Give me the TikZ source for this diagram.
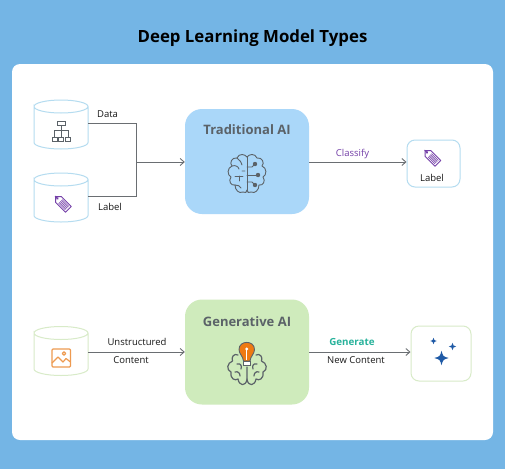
\documentclass[tikz,border=0pt]{standalone}
\usepackage{fontspec}
\setmainfont{Open Sans}
\usetikzlibrary{arrows.meta,calc}
\definecolor{bgblue}{HTML}{74B5E5}
\definecolor{tradblue}{HTML}{AAD7F9}
\definecolor{genfill}{HTML}{CFEBBC}
\definecolor{cylblue}{HTML}{B5DCF0}
\definecolor{cylgreen}{HTML}{D8EBC8}
\definecolor{iconink}{HTML}{5B6268}
\definecolor{linegray}{HTML}{6A6E72}
\definecolor{tagpurple}{HTML}{7440A8}
\definecolor{genteal}{HTML}{27B29B}
\definecolor{starblue}{HTML}{1F5AA6}
\definecolor{bulb}{HTML}{EE7A12}
\definecolor{imgorange}{HTML}{EE9A50}
\tikzset{
 cylbox/.style={minimum width=54pt,minimum height=49pt,inner sep=0pt,outer sep=0pt},
 aibox/.style={rounded corners=17pt,minimum width=124pt,minimum height=105pt,fill=#1,inner sep=0pt},
 outbox/.style={rounded corners=8pt,draw=#1,line width=1pt,fill=white,inner sep=0pt},
 flow/.style={draw=linegray,line width=0.9pt},
 flowarrow/.style={flow,-{Straight Barb[length=4pt,width=7pt]}},
 lab/.style={font=\fontsize{9.5}{11}\selectfont,text=black!90,inner sep=0pt},
 aititle/.style={font=\fontsize{13}{15}\selectfont\bfseries,text=iconink,inner sep=0pt},
 brainline/.style={draw=iconink,line width=0.9pt,line cap=round,line join=round},
}
% outline of a drum round a named node
\newcommand{\drum}[2]{%
 \draw[#2,line width=1pt] ($(#1.north west)+(0,6.5)$) arc[x radius=27pt,y radius=6.5pt,start angle=180,end angle=-180]
   -- ($(#1.south west)+(0,-6.5)$) arc[x radius=27pt,y radius=6.5pt,start angle=180,end angle=360]
   -- ($(#1.north east)+(0,6.5)$);}
% price-tag icon, tip at upper left
\newcommand{\tagicon}[2]{%
 \begin{scope}[shift={(#1,#2)},rotate=-45,scale=0.82]
  \draw[tagpurple,line width=0.9pt,fill=white,line join=round] (-11,0) -- (-6,-5) -- (11,-5) -- (11,5) -- (-6,5) -- cycle;
  \fill[tagpurple] (-8,0) circle (1.7pt);
  \foreach \yy in {-3,-1.5,0,1.5,3}{\draw[tagpurple,line width=0.55pt] (-3,\yy) -- (9,\yy);}
  \draw[tagpurple,line width=1pt] (-8,0) -- (-12,0);
 \end{scope}}
% lobed outline helper for the brain
\newcommand{\lobes}{%
 (0,-17) .. controls (-2,-20) and (-8,-21) .. (-10,-16)
 .. controls (-15,-17) and (-18,-11) .. (-15,-8)
 .. controls (-20,-6) and (-20,1) .. (-16,3)
 .. controls (-19,7) and (-16,12) .. (-12,11)
 .. controls (-12,16) and (-8,20) .. (-4,18) .. controls (-2,20) and (0,18) .. (0,16)}
\begin{document}
\begin{tikzpicture}[x=1pt,y=-1pt]
\useasboundingbox (0,0) rectangle (505,469);
\fill[bgblue] (0,0) rectangle (505,469);
\fill[white,rounded corners=8pt] (12,64) rectangle (493,440);
\node[font=\fontsize{16.8}{19}\selectfont\bfseries,text=black,inner sep=0pt] (title) at (252.5,38) {Deep Learning Model Types};

% AI boxes
\node[aibox=tradblue] (trad) at (247,161.5) {};
\node[aibox=genfill] (gen) at (247,352) {};
\node[aititle] (tradt) at (247,130) {Traditional AI};
\node[aititle] (gent) at (247,322) {Generative AI};

% drums
\node[cylbox] (data) at (61,124.5) {};
\node[cylbox] (label) at (61,197.5) {};
\node[cylbox] (unstr) at (61,351) {};
\drum{data}{cylblue}
\drum{label}{cylblue}
\drum{unstr}{cylgreen}

% output boxes
\node[outbox=cylblue,minimum width=53pt,minimum height=47pt] (outl) at (433.5,163.5) {};
\node[outbox=cylgreen,minimum width=60pt,minimum height=55pt] (outg) at (441,353.5) {};

% junction
\coordinate (j1) at (136,123);
\coordinate (j2) at (136,196);
\coordinate (jm) at (136,162);

% connectors
\draw[flow] (data.east |- j1) -- (j1) -- (j2) -- (label.east |- j2);
\draw[flowarrow] (jm) -- (trad.west |- jm);
\draw[flowarrow] (trad.east |- 0,162) -- (outl.west |- 0,162);
\draw[flowarrow] (unstr.east |- 0,352) -- (gen.west |- 0,352);
\draw[flowarrow] (gen.east |- 0,352) -- (outg.west |- 0,352);

% connector labels
\node[lab] (ldata) at (107.5,114) {Data};
\node[lab] (llabel) at (110,207) {Label};
\node[lab,text=tagpurple] (lclass) at (352.5,154) {Classify};
\node[lab] (lout) at (432,177.5) {Label};
\node[lab] (lun) at (137,342) {Unstructured};
\node[lab] (lcon) at (131,360.5) {Content};
\node[lab,text=genteal,font=\fontsize{9.8}{11}\selectfont\bfseries] (lgen) at (352,342) {Generate};
\node[lab] (lnew) at (356,360.5) {New Content};

% hierarchy icon
\begin{scope}[draw=iconink,line width=0.8pt]
 \draw (57,121.5) rectangle (65,125.5);
 \draw (61,125.5) -- (61,137) (54,137) -- (54,130.5) -- (68,130.5) -- (68,137);
 \draw (52,137) rectangle (57,141.5);
 \draw (58.5,137) rectangle (63.5,141.5);
 \draw (65.5,137) rectangle (70.5,141.5);
\end{scope}

% tags
\tagicon{62}{203}
\tagicon{431.5}{157}

% picture icon
\begin{scope}[draw=imgorange,line width=1.2pt,line join=round]
 \draw[rounded corners=1pt] (52,349) rectangle (70.5,367);
 \draw (52,363) -- (58,357) -- (63,362) -- (66,358.5) -- (70.5,362);
 \draw (64,353.5) circle (1.7pt);
\end{scope}

% stars
\foreach \sx/\sy/\sr in {441.5/358/7.2,433.5/341/3.2,452.5/346.5/3.6}{
 \fill[starblue] (\sx,\sy-\sr) .. controls (\sx+.22*\sr,\sy-.22*\sr) .. (\sx+\sr,\sy)
  .. controls (\sx+.22*\sr,\sy+.22*\sr) .. (\sx,\sy+\sr)
  .. controls (\sx-.22*\sr,\sy+.22*\sr) .. (\sx-\sr,\sy)
  .. controls (\sx-.22*\sr,\sy-.22*\sr) .. cycle;
}

% traditional brain
\begin{scope}[shift={(247,174)},brainline]
 \draw \lobes;
 \draw[xscale=-1] \lobes;
 \draw (0,-17) -- (0,16);
 \draw (-10,-16) .. controls (-8,-14) and (-6,-13) .. (-5,-9) (-15,-8) .. controls (-12,-9) and (-9,-8) .. (-8,-5);
 \draw (-12,2) -- (-4,2) (-8,2) -- (-8,7);
 \draw (-12,11) .. controls (-9,11) and (-7,12) .. (-6,14) (-5,-3) -- (-2,-3);
 \draw (0,-7) -- (5,-7) -- (8,-10);
 \draw (0,1) -- (11,1);
 \draw (0,8) -- (5,8) -- (8,11);
 \fill[iconink] (8,-10) circle (2.2pt) (11,1) circle (2.2pt) (8,11) circle (2.2pt);
\end{scope}

% generative brain
\begin{scope}[shift={(247,368)},brainline,line width=1.2pt]
 \draw (-9,-13) .. controls (-13,-15) and (-16,-11) .. (-14.5,-7)
  .. controls (-20,-5) and (-21,2) .. (-16,4)
  .. controls (-17,11) and (-12,13) .. (-9,11)
  .. controls (-8,18) and (-1,19) .. (0,11)
  .. controls (1,19) and (8,18) .. (9,11)
  .. controls (12,13) and (17,11) .. (16,4)
  .. controls (21,2) and (20,-5) .. (14.5,-7)
  .. controls (16,-11) and (13,-15) .. (9,-13);
 \draw (-10,-4) .. controls (-6,-5) and (-5,-2) .. (-6,1) (10,-4) .. controls (6,-5) and (5,-2) .. (6,1);
 \draw (0,-1) -- (0,11) (-12,4) .. controls (-9,3) and (-7,5) .. (-7,8) (12,4) .. controls (9,3) and (7,5) .. (7,8);
\end{scope}
% bulb
\fill[bulb,draw=iconink,line width=0.9pt] (243.5,361) .. controls (243,356) and (239,354) .. (239,349.5)
  .. controls (239,340) and (254.5,340) .. (254.5,349.5) .. controls (254.5,354) and (250.5,356) .. (250,361) -- cycle;
\fill[white] (246.7,349) circle (1.6pt);
\draw[white,line width=0.8pt] (246.7,350) -- (246.7,360);
\draw[iconink,line width=1pt,fill=white] (243.5,361) rectangle (250,365);
\end{tikzpicture}
\end{document}
